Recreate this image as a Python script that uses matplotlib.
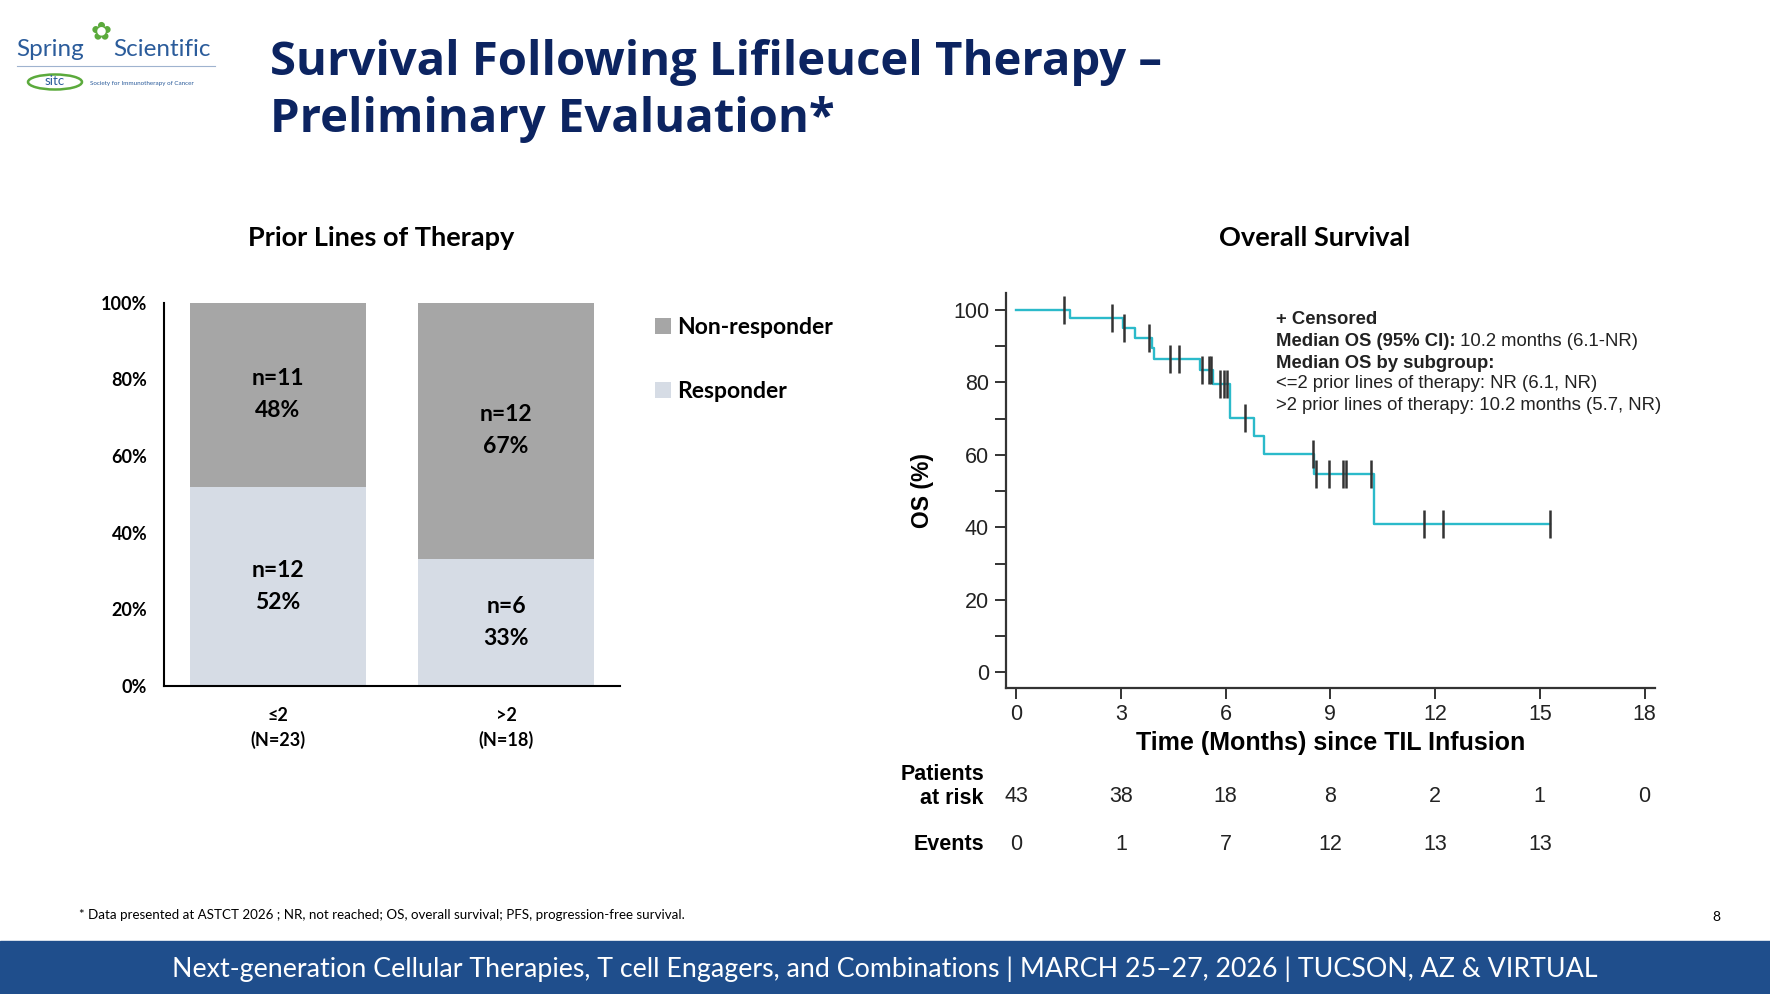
import numpy as np
import matplotlib
matplotlib.use('Agg')
import matplotlib.pyplot as plt
from matplotlib.patches import Rectangle, Ellipse
from matplotlib.lines import Line2D
from matplotlib import transforms

W, H = 1770, 994

# --- bar chart data (prior lines of therapy) ---
groups = ['≤2\n(N=23)', '>2\n(N=18)']
resp_n = [12, 6]
nonresp_n = [11, 12]
resp_pct = [52, 33]
nonresp_pct = [48, 67]

# --- overall survival (KM) data ---
step_t = [0, 1.53, 3.06, 3.41, 3.88, 3.96, 5.28, 5.65, 6.13, 6.80, 7.09, 8.54, 10.24]
step_os = [100, 97.7, 95.1, 92.2, 89.5, 86.6, 83.4, 79.7, 70.3, 65.3, 60.2, 54.8, 40.9]
last_t = 15.28
cens_t = [1.38, 2.75, 3.08, 3.80, 4.42, 4.66, 5.31, 5.53, 5.59, 5.85, 5.94, 6.04,
          6.56, 8.49, 8.59, 8.95, 9.35, 9.45, 10.16, 11.67, 12.22, 15.28]
risk_t = [0, 3, 6, 9, 12, 15, 18]
at_risk = [43, 38, 18, 8, 2, 1, 0]
events = [0, 1, 7, 12, 13, 13]

slide_font = ['Lato', 'DejaVu Sans']
title_font = ['Open Sans', 'DejaVu Sans']
km_font = ['Liberation Sans Narrow', 'Liberation Sans', 'DejaVu Sans']
navy = '#0C2461'
teal = '#2BBACA'
dark = '#333333'


def fx(x):
    return x / W


def fy(y):
    return 1 - y / H


fig = plt.figure(figsize=(W / 100, H / 100), dpi=100)
fig.patch.set_facecolor('white')

# header / logo
fig.text(fx(16), fy(50), 'Spring', fontsize=17.5, color='#2B5C9B', family=slide_font, va='center')
fig.text(fx(113), fy(50), 'Scientific', fontsize=17.5, color='#2B5C9B', family=slide_font, va='center')
fig.text(fx(101), fy(32), '✿', fontsize=18, color='#5BAA3C', family='DejaVu Sans', ha='center', va='center')
fig.add_artist(Line2D([fx(17), fx(215)], [fy(66), fy(66)], color='#9FB3CF', lw=0.8))
fig.add_artist(Ellipse((fx(55), fy(82)), 54 / W, 15 / H, fill=False, ec='#5BAA3C', lw=1.8))
fig.text(fx(55), fy(81), 'sitc', fontsize=9.5, color='#2B5C9B', family=slide_font, ha='center', va='center')
fig.text(fx(90), fy(83), 'Society for Immunotherapy of Cancer', fontsize=4.5, color='#2B5C9B',
         family=slide_font, va='center')

fig.text(fx(270), fy(74.5), 'Survival Following Lifileucel Therapy –', fontsize=34, fontweight='bold',
         color=navy, family=title_font, va='baseline')
fig.text(fx(270), fy(131.5), 'Preliminary Evaluation*', fontsize=34, fontweight='bold',
         color=navy, family=title_font, va='baseline')

# ---------------- bar chart ----------------
ax1 = fig.add_axes([fx(164), fy(686), (620 - 164) / W, (686 - 302.5) / H])
x = np.arange(len(groups))
b1 = ax1.bar(x, resp_pct, width=0.776, color='#D6DCE5', label='Responder')
b2 = ax1.bar(x, nonresp_pct, bottom=resp_pct, width=0.776, color='#A6A6A6', label='Non-responder')
for i in range(len(groups)):
    ax1.text(x[i], resp_pct[i] / 2, f'n={resp_n[i]}\n{resp_pct[i]}%', ha='center', va='center',
             fontsize=16.5, fontweight='bold', family=slide_font, linespacing=1.65)
    ax1.text(x[i], resp_pct[i] + nonresp_pct[i] / 2, f'n={nonresp_n[i]}\n{nonresp_pct[i]}%',
             ha='center', va='center', fontsize=16.5, fontweight='bold', family=slide_font, linespacing=1.65)
ax1.set_xlim(-0.5, 1.5)
ax1.set_ylim(0, 100)
ax1.set_yticks(np.arange(0, 101, 20))
ax1.set_yticklabels([f'{v}%' for v in range(0, 101, 20)], fontsize=13, fontweight='bold', family=slide_font)
ax1.set_xticks(x)
ax1.set_xticklabels(groups, fontsize=13, fontweight='bold', family=slide_font, linespacing=1.5)
ax1.tick_params(axis='both', length=0)
ax1.tick_params(axis='y', pad=12)
ax1.tick_params(axis='x', pad=15)
for s in ['top', 'right']:
    ax1.spines[s].set_visible(False)
for s in ['left', 'bottom']:
    ax1.spines[s].set_linewidth(1.5)
    ax1.spines[s].set_color('black')
ax1.legend(handles=[b2, b1], loc='upper left', bbox_to_anchor=(fx(634), fy(296)),
           bbox_transform=fig.transFigure, frameon=False, handlelength=0.7, handleheight=0.7,
           handletextpad=0.3, labelspacing=1.9, prop={'family': slide_font, 'weight': 'bold', 'size': 16.5})
fig.text(fx(381), fy(238), 'Prior Lines of Therapy', fontsize=19.5, fontweight='bold', family=slide_font,
         ha='center', va='center')

# ---------------- KM chart ----------------
ax2 = fig.add_axes([fx(1005.7), fy(688.3), (1655 - 1005.7) / W, (688.3 - 293.3) / H])
ax2.step(np.r_[step_t, last_t], np.r_[step_os, step_os[-1]], where='post', color=teal, lw=1.7)
idx = np.searchsorted(step_t, cens_t, side='right') - 1
ax2.plot(cens_t, np.array(step_os)[idx], ls='none', marker='|', ms=20, mew=1.8, color=dark)
ax2.set_xlim(-0.3, 18.3)
ax2.set_ylim(-4.4, 104.6)
ax2.set_xticks(risk_t)
ax2.set_yticks(np.arange(0, 101, 20))
ax2.set_yticks(np.arange(10, 100, 20), minor=True)
ax2.tick_params(axis='both', which='both', direction='out', length=8, width=1.4, color=dark,
                labelsize=15.5, labelcolor='#222222')
ax2.tick_params(axis='y', pad=4)
for lab in ax2.get_xticklabels() + ax2.get_yticklabels():
    lab.set_family(km_font)
for s in ['top', 'right']:
    ax2.spines[s].set_visible(False)
for s in ['left', 'bottom']:
    ax2.spines[s].set_linewidth(1.6)
    ax2.spines[s].set_color(dark)

fig.text(fx(1315), fy(238), 'Overall Survival', fontsize=19.5, fontweight='bold', family=slide_font,
         ha='center', va='center')
fig.text(fx(922), fy(491), 'OS (%)', fontsize=16.5, fontweight='bold', family=km_font, rotation=90,
         ha='center', va='center')

tr = transforms.blended_transform_factory(ax2.transData, fig.transFigure)
fig.text(9, fy(743), 'Time (Months) since TIL Infusion', transform=tr, fontsize=18, fontweight='bold',
         family=km_font, ha='center', va='center')
for t, n in zip(risk_t, at_risk):
    fig.text(t, fy(796), str(n), transform=tr, fontsize=15.5, family=km_font, ha='center', va='center',
             color='#222222')
for t, n in zip(risk_t, events):
    fig.text(t, fy(844), str(n), transform=tr, fontsize=15.5, family=km_font, ha='center', va='center',
             color='#222222')
fig.text(fx(984), fy(774), 'Patients', fontsize=15.5, fontweight='bold', family=km_font, ha='right', va='center')
fig.text(fx(984), fy(799), 'at risk', fontsize=15.5, fontweight='bold', family=km_font, ha='right', va='center')
fig.text(fx(984), fy(844), 'Events', fontsize=15.5, fontweight='bold', family=km_font, ha='right', va='center')

# annotation block
ann = [('+ Censored', ''),
       ('Median OS (95% CI):', ' 10.2 months (6.1-NR)'),
       ('Median OS by subgroup:', ''),
       ('', '<=2 prior lines of therapy: NR (6.1, NR)'),
       ('', '>2 prior lines of therapy: 10.2 months (5.7, NR)')]
ann_y = [319, 341, 363, 384, 406]
renderer = fig.canvas.get_renderer()
for (bold, normal), yy in zip(ann, ann_y):
    x0 = 1275.5
    if bold:
        tb = fig.text(fx(x0), fy(yy), bold, fontsize=13.3, fontweight='bold', family=km_font,
                      va='center', color='#222222')
        x0 = tb.get_window_extent(renderer).x1
    if normal:
        fig.text(fx(x0), fy(yy), normal, fontsize=13.3, family=km_font, va='center', color='#222222')

# footnote, page number, footer band
fig.text(fx(79), fy(915), '* Data presented at ASTCT 2026 ; NR, not reached; OS, overall survival; '
         'PFS, progression-free survival.', fontsize=9.6, family=slide_font, va='center')
fig.text(fx(1716), fy(917), '8', fontsize=10, family=slide_font, ha='center', va='center')
fig.add_artist(Rectangle((0, 0), 1, 53 / H, transform=fig.transFigure, color='#1F4E8C', zorder=0))
fig.text(fx(885), fy(969), 'Next-generation Cellular Therapies, T cell Engagers, and Combinations | '
         'MARCH 25–27, 2026 | TUCSON, AZ & VIRTUAL', fontsize=19.3, color='white', family=slide_font,
         ha='center', va='center')

fig.savefig('out.png', dpi=100)
